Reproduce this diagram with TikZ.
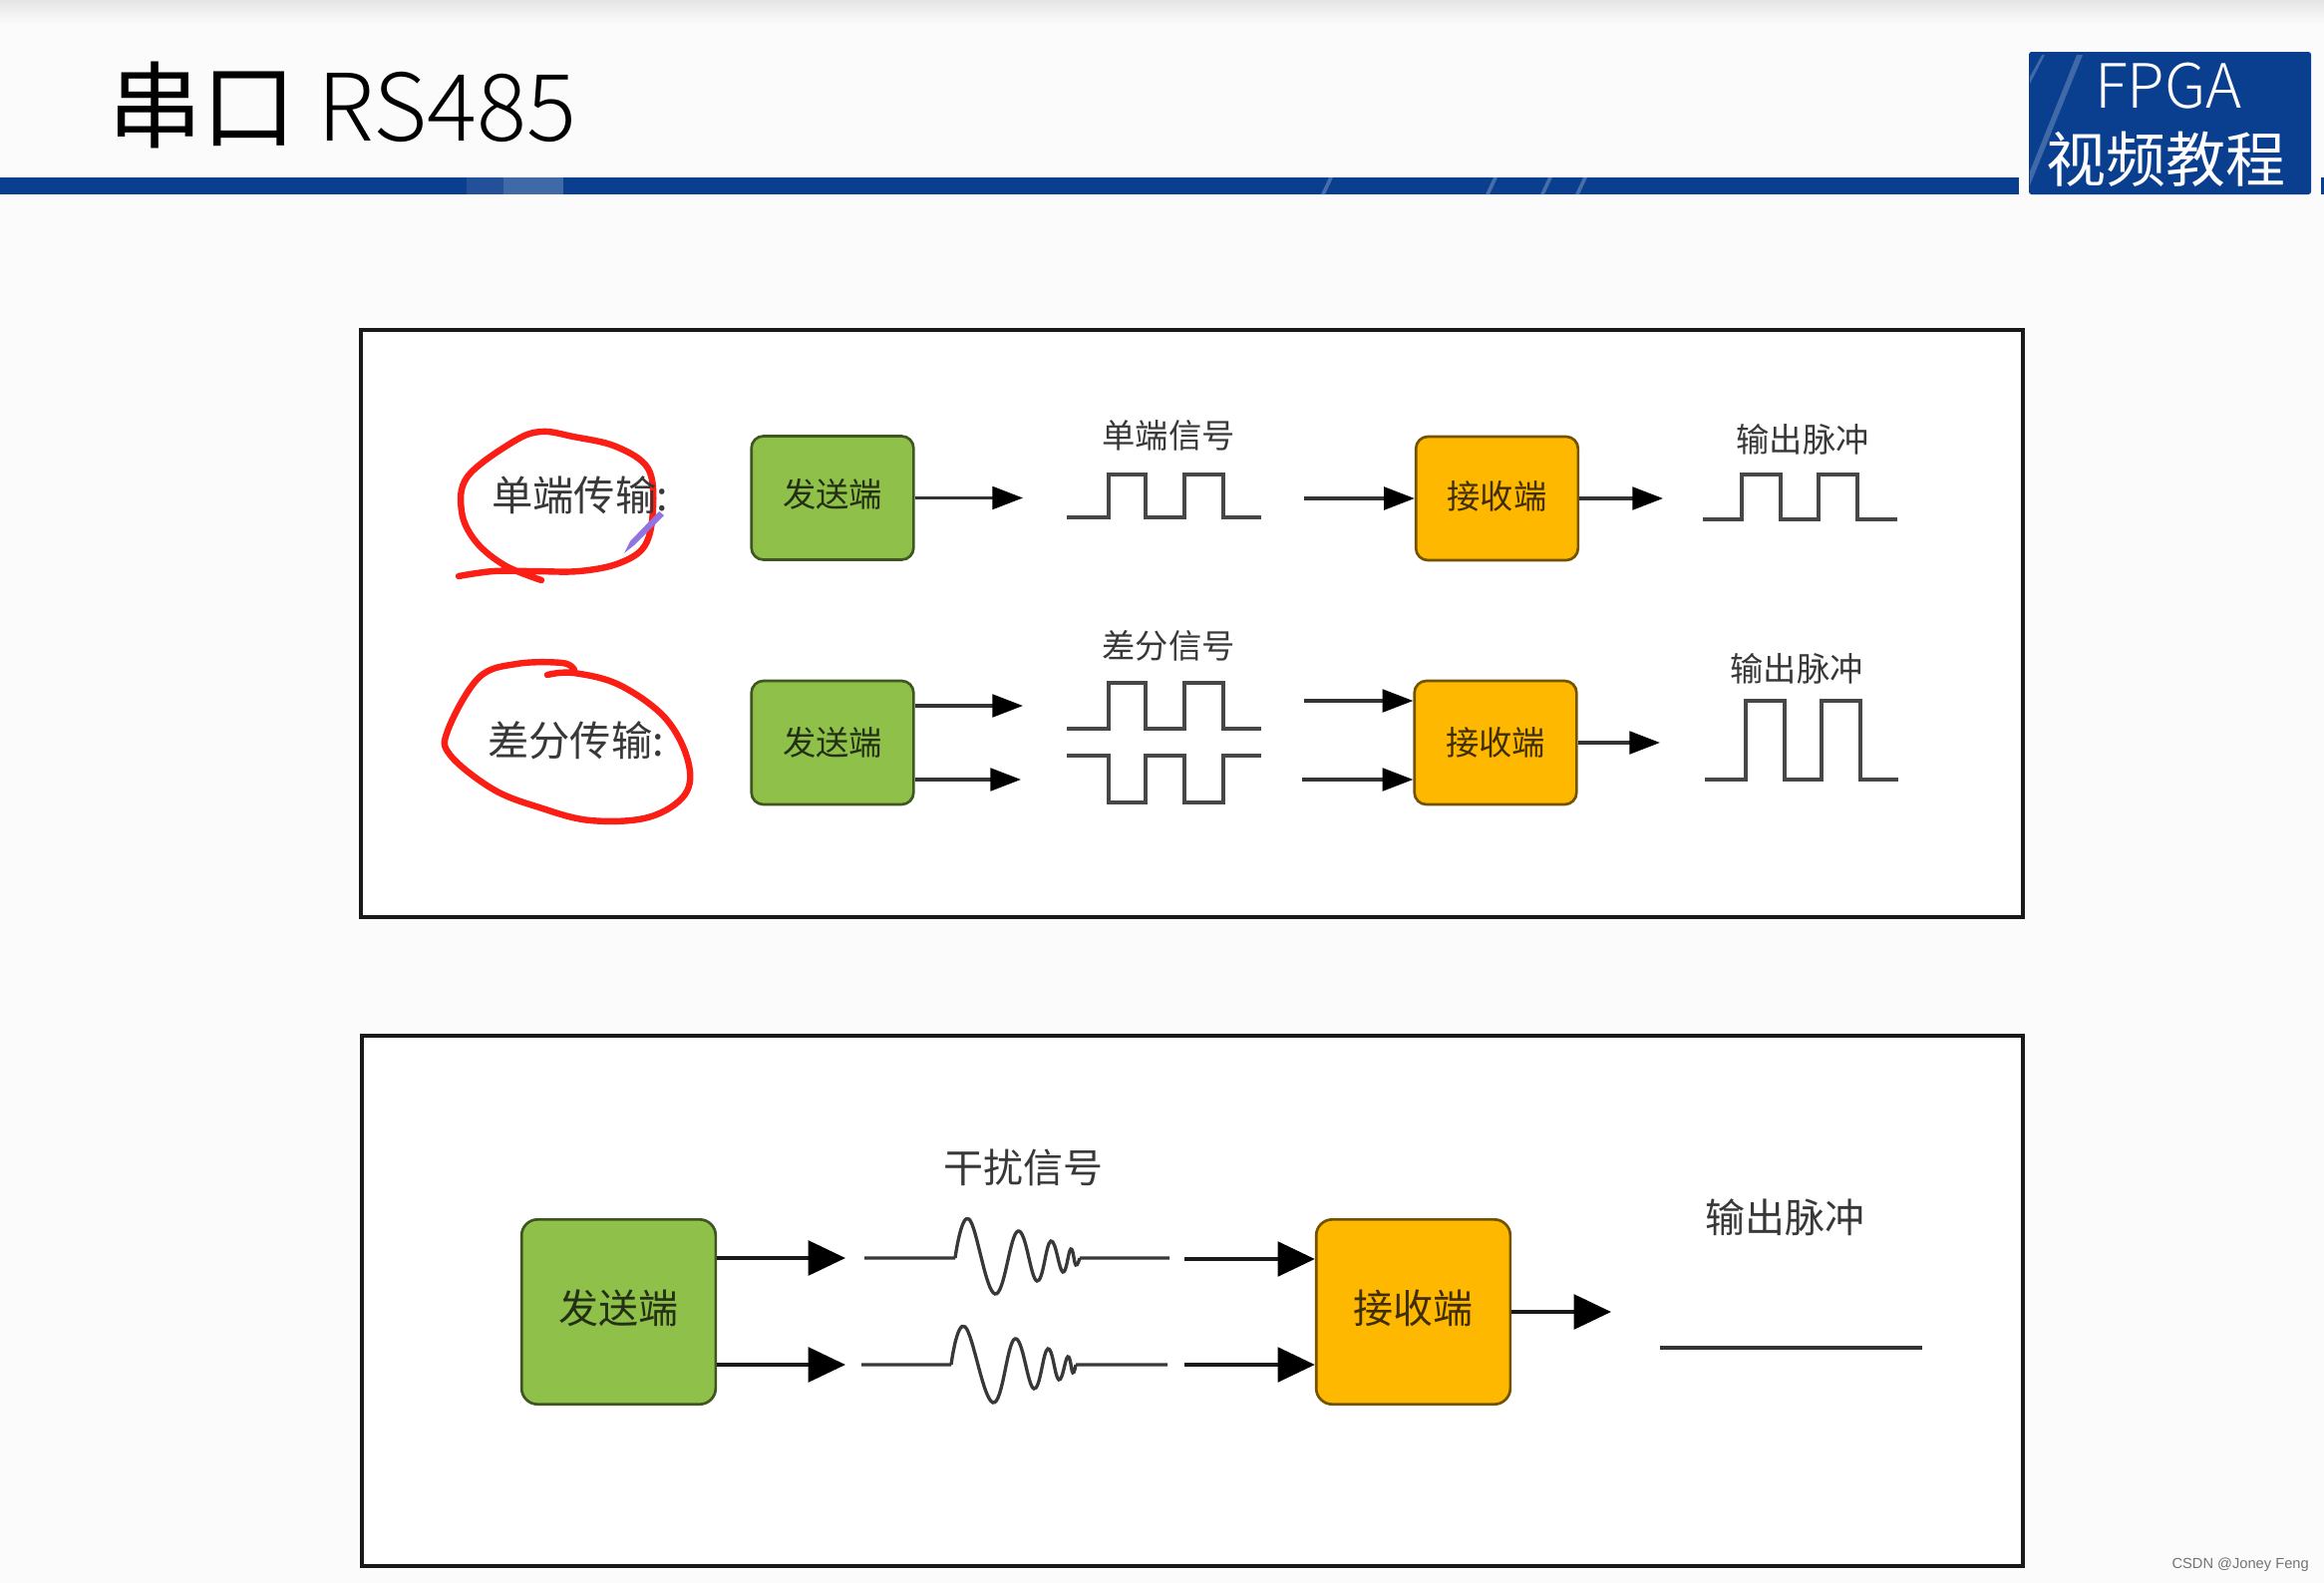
\documentclass[tikz,border=0pt]{standalone}
\usepackage{fontspec}
\usepackage{tikz}
\usetikzlibrary{arrows.meta}
\newfontfamily\cjk{Noto Sans CJK SC}
\newfontfamily\lightcjk{Noto Sans CJK SC Light}
\setsansfont{Liberation Sans}
\definecolor{bandblue}{RGB}{10,62,143}
\definecolor{paper}{RGB}{251,251,251}
\definecolor{sendgreen}{RGB}{143,192,74}
\definecolor{recvorange}{RGB}{255,184,0}
\definecolor{inkred}{RGB}{250,30,20}
\tikzset{
  sendbox/.style={draw=black!55!sendgreen,fill=sendgreen,line width=2pt,rounded corners=9pt,minimum width=122pt,minimum height=93pt,inner sep=0pt,text=black!75!sendgreen},
  recvbox/.style={draw=black!55!recvorange,fill=recvorange,line width=2pt,rounded corners=9pt,minimum width=122pt,minimum height=93pt,inner sep=0pt,text=black!75!recvorange},
  bigsendbox/.style={sendbox,minimum width=146pt,minimum height=139pt,rounded corners=12pt},
  bigrecvbox/.style={recvbox,minimum width=146pt,minimum height=139pt,rounded corners=12pt},
  sig/.style={line width=2.4pt,black!80,-{Triangle[length=23pt,width=17pt,black]}},
  bigsig/.style={line width=2.8pt,black!90,-{Triangle[length=28pt,width=26pt,black]}},
  pulse/.style={line width=2.4pt,black!72},
  noise/.style={line width=2.5pt,black!78},
  frame/.style={draw=black!90,fill=white,line width=2.6pt},
  redpen/.style={draw=inkred,line width=4.8pt,line cap=round,line join=round},
  lbl/.style={inner sep=0pt,text=black!78,font=\cjk\fontsize{25}{30}\selectfont},
  biglbl/.style={inner sep=0pt,text=black!78,font=\cjk\fontsize{30}{36}\selectfont},
}
\begin{document}
\begin{tikzpicture}[x=0.75pt,y=0.75pt,yscale=-1,xscale=1]
\useasboundingbox (0,0) rectangle (2331,1588);
\fill[paper] (0,0) rectangle (2331,1588);
\shade[top color=black!10,bottom color=paper] (0,0) rectangle (2331,24);

%Header band
\fill[bandblue] (0,178) rectangle (2025,195);
\fill[bandblue] (2328,178) rectangle (2331,195);
\fill[bandblue!90!white] (468,178) rectangle (505,195);
\fill[bandblue!78!white] (505,178) rectangle (565,195);
\foreach \sx in {1325,1490,1545,1580} {
  \fill[bandblue!75!white] (\sx,195) -- (\sx+8,178) -- (\sx+12,178) -- (\sx+4,195) -- cycle;
}
%Logo
\fill[bandblue,rounded corners=2pt] (2035,52) rectangle (2318,195);
\fill[bandblue!78!white] (2036,77) -- (2048,55) -- (2051,55) -- (2036,84) -- cycle;
\fill[bandblue!78!white] (2036,172) -- (2083,55) -- (2089,55) -- (2036,186) -- cycle;

% Text Node
\node (title) [anchor=west,inner sep=0pt,text=black] at (108,105) {\cjk\fontsize{71}{84}\selectfont 串口 \lightcjk\fontsize{70}{84}\selectfont RS485};
% Text Node
\node (logoA) [inner sep=0pt,text=white] at (2175,86) {\lightcjk\fontsize{46}{54}\selectfont FPGA};
% Text Node
\node (logoB) [inner sep=0pt,text=white] at (2172,160) {\cjk\fontsize{45}{54}\selectfont 视频教程};

%Frames
\draw[frame] (362,331) rectangle (2029,920);
\draw[frame] (363,1039) rectangle (2029,1571);

%Red pen strokes
\draw[redpen] plot[smooth,tension=0.6] coordinates {(460,578) (495,573) (535,573) (581,573) (621,565) (647,547) (655,510) (650,470) (618,448) (575,438) (543,433) (515,443) (469,478) (463,513) (477,543) (506,567) (543,582)};
\draw[redpen] plot[smooth,tension=0.6] coordinates {(549,677) (575,675) (621,687) (667,720) (690,763) (687,797) (650,820) (592,823) (541,810) (495,792) (452,758) (449,733) (480,680) (518,666) (564,665) (576,672)};
\fill[violet!45!blue!55!white] (661,513) -- (666,517) -- (636,547) -- (626,555) -- (632,543) -- cycle;

% Text Node
\node (txtSingle) [lbl,font=\cjk\fontsize{31}{36}\selectfont,anchor=west] at (493,497) {单端传输:};
% Text Node
\node (txtDiff) [lbl,font=\cjk\fontsize{31}{36}\selectfont,anchor=west] at (489,743) {差分传输:};

%Boxes
\node (send1) [sendbox,text depth=7pt,font=\cjk\fontsize{25}{30}\selectfont] at (835,499.5) {发送端};
\node (send2) [sendbox,font=\cjk\fontsize{25}{30}\selectfont] at (835,745) {发送端};
\node (recv1) [recvbox,text depth=5pt,font=\cjk\fontsize{25}{30}\selectfont] at (1501.5,500) {接收端};
\node (recv2) [recvbox,font=\cjk\fontsize{25}{30}\selectfont] at (1500,745) {接收端};
\node (send3) [bigsendbox,text depth=8pt,font=\cjk\fontsize{30}{36}\selectfont] at (620.5,1316) {发送端};
\node (recv3) [bigrecvbox,text depth=8pt,font=\cjk\fontsize{30}{36}\selectfont] at (1417.5,1316) {接收端};

%Arrow ends
\coordinate (s1out) at (1026,499.5);
\coordinate (r1in) at (1308,500);
\coordinate (r1out) at (1668,500);
\coordinate (s2outA) at (1026,708);
\coordinate (s2outB) at (1024,782);
\coordinate (r2inA) at (1308,703);
\coordinate (r2inB) at (1306,782);
\coordinate (r2out) at (1665,745);
\coordinate (s3outA) at (848,1262);
\coordinate (s3outB) at (848,1369);
\coordinate (r3inA) at (1188,1263);
\coordinate (r3inB) at (1188,1369);
\coordinate (r3out) at (1616,1316);

%Straight Lines
\draw[sig] (send1.east) -- (s1out);
\draw[sig] (r1in) -- (recv1.west);
\draw[sig] (recv1.east) -- (r1out);
\draw[sig] (s2outA -| send2.east) -- (s2outA);
\draw[sig] (s2outB -| send2.east) -- (s2outB);
\draw[sig] (r2inA) -- (r2inA -| recv2.west);
\draw[sig] (r2inB) -- (r2inB -| recv2.west);
\draw[sig] (recv2.east) -- (r2out);
\draw[bigsig] (s3outA -| send3.east) -- (s3outA);
\draw[bigsig] (s3outB -| send3.east) -- (s3outB);
\draw[bigsig] (r3inA) -- (r3inA -| recv3.west);
\draw[bigsig] (r3inB) -- (r3inB -| recv3.west);
\draw[bigsig] (recv3.east) -- (r3out);

%Pulses
\draw[pulse] (1070,519) -- (1112,519) -- (1112,476) -- (1149,476) -- (1149,519) -- (1188,519) -- (1188,476) -- (1227,476) -- (1227,519) -- (1265,519);
\draw[pulse] (1070,731) -- (1112,731) -- (1112,685) -- (1149,685) -- (1149,731) -- (1188,731) -- (1188,685) -- (1227,685) -- (1227,731) -- (1265,731);
\draw[pulse] (1070,758) -- (1112,758) -- (1112,805) -- (1149,805) -- (1149,758) -- (1188,758) -- (1188,805) -- (1227,805) -- (1227,758) -- (1265,758);
\draw[pulse] (1708,521) -- (1747,521) -- (1747,476) -- (1786,476) -- (1786,521) -- (1824,521) -- (1824,476) -- (1863,476) -- (1863,521) -- (1903,521);
\draw[pulse] (1710,782) -- (1751,782) -- (1751,703) -- (1790,703) -- (1790,782) -- (1827,782) -- (1827,703) -- (1866,703) -- (1866,782) -- (1904,782);

%Noise
\draw[noise] (867,1262) -- (958,1262) plot[smooth,tension=0.7] coordinates {(958,1262) (972,1223) (998,1298) (1021,1235) (1040,1285) (1054,1245) (1066,1276) (1074,1253) (1079,1269) (1083,1262)} (1083,1262) -- (1173,1262);
\draw[noise] (864,1369) -- (954,1369) plot[smooth,tension=0.7] coordinates {(954,1369) (968,1331) (996,1407) (1018,1343) (1037,1393) (1051,1353) (1062,1384) (1071,1361) (1076,1377) (1079,1369)} (1079,1369) -- (1171,1369);
\draw[line width=2.8pt,black!80] (1665,1352) -- (1928,1352);

% Text Node
\node (lblSingle) [lbl] at (1172,437) {单端信号};
% Text Node
\node (lblDiff) [lbl] at (1172,648) {差分信号};
% Text Node
\node (lblOutA) [lbl] at (1808,441) {输出脉冲};
% Text Node
\node (lblOutB) [lbl] at (1802,671) {输出脉冲};
% Text Node
\node (lblNoise) [biglbl] at (1026,1171) {干扰信号};
% Text Node
\node (lblOutC) [biglbl] at (1790,1221) {输出脉冲};
% Text Node
\node (mark) [anchor=east,inner sep=0pt,text=black!55,font=\sffamily\fontsize{11}{13}\selectfont] at (2316,1570) {CSDN @Joney Feng};
\end{tikzpicture}
\end{document}
